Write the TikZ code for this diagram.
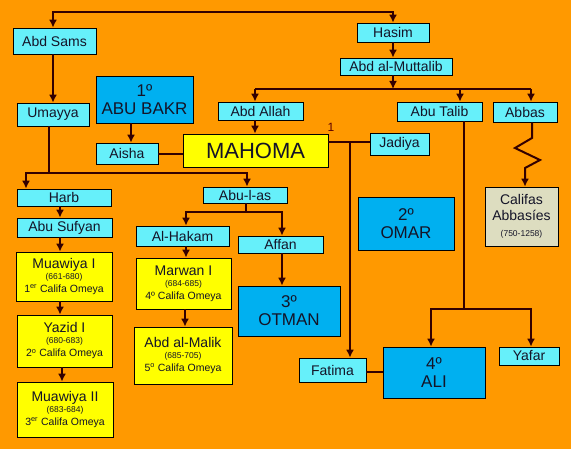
\documentclass[tikz,border=0pt]{standalone}
\usepackage{fontspec}
\setmainfont{Liberation Sans}
\usetikzlibrary{arrows.meta}

\definecolor{bgorange}{RGB}{255,153,0}
\definecolor{cyanbox}{RGB}{102,240,250}
\definecolor{bluebox}{RGB}{0,176,240}
\definecolor{yellowbox}{RGB}{255,255,0}
\definecolor{beigebox}{RGB}{221,221,192}
\definecolor{linec}{RGB}{51,0,0}
\definecolor{inkc}{RGB}{20,20,40}

% name / years / caliph line
\newcommand{\califa}[3]{{\fontsize{14}{15}\selectfont #1}\\[-1pt]{\fontsize{8.5}{10}\selectfont #2}\\[1pt]{\fontsize{10.5}{12}\selectfont #3}}

\begin{document}
\begin{tikzpicture}[x=1pt, y=-1pt, >={Latex[length=8pt,width=8pt]}]
  % Define styles
  \tikzstyle{person} = [rectangle, draw=black, line width=0.7pt, fill=cyanbox, inner sep=0pt, text=inkc, font=\fontsize{14}{16}\selectfont, text centered]
  \tikzstyle{caliph} = [rectangle, draw=black, line width=0.7pt, fill=bluebox, inner sep=0pt, text=inkc, align=center, font=\fontsize{17}{18}\selectfont]
  \tikzstyle{omeya} = [rectangle, draw=black, line width=0.7pt, fill=yellowbox, inner sep=0pt, text=inkc, align=center]
  \tikzstyle{line} = [draw=linec, line width=2pt]

  % Background
  \fill[bgorange] (0,0) rectangle (571,449);
  \useasboundingbox (0,0) rectangle (571,449);

  % Ancestors
  \node[person, minimum width=83pt, minimum height=26pt] (abdsams) at (54.5,41) {Abd Sams};
  \node[person, minimum width=72pt, minimum height=19pt] (hasim) at (393,32.5) {Hasim};
  \node[person, minimum width=112pt, minimum height=17pt] (muttalib) at (396,66.5) {Abd al-Muttalib};
  \node[person, minimum width=72pt, minimum height=23pt] (umayya) at (53,114.5) {Umayya};

  % Sons of Abd al-Muttalib
  \node[person, minimum width=85pt, minimum height=18pt] (abdallah) at (260.5,111) {Abd Allah};
  \node[person, minimum width=85pt, minimum height=19pt] (abutalib) at (439.5,111.5) {Abu Talib};
  \node[person, minimum width=64pt, minimum height=20pt] (abbas) at (525,112) {Abbas};

  % Mahoma and wives
  \node[caliph, minimum width=97pt, minimum height=47pt] (abubakr) at (144.5,99.5) {1º\\ABU BAKR};
  \node[person, minimum width=62pt, minimum height=21pt] (aisha) at (127,153.5) {Aisha};
  \node[rectangle, draw=black, line width=0.7pt, fill=yellowbox, text=inkc, minimum width=145pt, minimum height=33pt, font=\fontsize{22}{24}\selectfont] (mahoma) at (255.5,150.5) {MAHOMA};
  \node[text=linec!80!red, font=\fontsize{12}{14}\selectfont] (uno) at (331,127) {1};
  \node[person, minimum width=59pt, minimum height=22pt] (jadiya) at (399.5,144) {Jadiya};

  % Omeyas
  \node[person, minimum width=94pt, minimum height=17pt] (harb) at (64,197.5) {Harb};
  \node[person, minimum width=95pt, minimum height=19pt] (abusufyan) at (64.5,227.5) {Abu Sufyan};
  \node[omeya, minimum width=96pt, minimum height=49pt] (muawiyaI) at (64,276.5) {\califa{Muawiya I}{(661-680)}{1\textsuperscript{er} Califa Omeya}};
  \node[omeya, minimum width=95pt, minimum height=52pt] (yazid) at (64.5,341) {\califa{Yazid I}{(680-683)}{2\textsuperscript{o} Califa Omeya}};
  \node[omeya, minimum width=96pt, minimum height=55pt] (muawiyaII) at (65,409.5) {\califa{Muawiya II}{(683-684)}{3\textsuperscript{er} Califa Omeya}};

  \node[person, minimum width=84pt, minimum height=16pt] (abulas) at (245,195) {Abu-l-as};
  \node[person, minimum width=93pt, minimum height=20pt] (alhakam) at (182.5,236) {Al-Hakam};
  \node[person, minimum width=85pt, minimum height=17pt] (affan) at (280.5,244.5) {Affan};
  \node[omeya, minimum width=95pt, minimum height=51pt] (marwan) at (183.5,283.5) {\califa{Marwan I}{(684-685)}{4º Califa Omeya}};
  \node[omeya, minimum width=98pt, minimum height=57pt] (abdalmalik) at (183,355.5) {\califa{Abd al-Malik}{(685-705)}{5\textsuperscript{o} Califa Omeya}};
  \node[caliph, minimum width=102pt, minimum height=50pt] (otman) at (289,311) {3º\\OTMAN};

  % Other caliphs
  \node[caliph, minimum width=96pt, minimum height=53pt] (omar) at (406,223.5) {2º\\OMAR};
  \node[rectangle, draw=black, line width=0.7pt, fill=beigebox, inner sep=0pt, text=inkc, align=center, font=\fontsize{14}{16}\selectfont, minimum width=73pt, minimum height=59pt] (califas) at (521.5,216.5) {Califas\\Abbasíes\\[0pt]{\fontsize{8.5}{10}\selectfont (750-1258)}};
  \node[person, minimum width=67pt, minimum height=24pt] (fatima) at (332.5,370) {Fatima};
  \node[caliph, minimum width=102pt, minimum height=51pt] (ali) at (434,372.5) {4º\\ALI};
  \node[person, minimum width=60pt, minimum height=18pt] (yafar) at (529,356) {Yafar};

  % Join points
  \coordinate (top) at (53,12);
  \coordinate (fam) at (393,89);
  \coordinate (famL) at (255,89);
  \coordinate (famT) at (460,89);
  \coordinate (famR) at (531,89);
  \coordinate (omy) at (49,173);
  \coordinate (omyL) at (26,173);
  \coordinate (omyR) at (247,173);
  \coordinate (asj) at (246,212);
  \coordinate (asL) at (186,212);
  \coordinate (asR) at (282,212);
  \coordinate (wed) at (350,142);
  \coordinate (tal) at (464,309);
  \coordinate (talL) at (431,309);
  \coordinate (talR) at (531,309);

  % Arrows
  \draw[line, <->] (abdsams.north -| top) -- (top) -| (hasim.north);
  \draw[line, ->] (hasim.south) -- (muttalib.north -| hasim.south);
  \draw[line, ->] (muttalib.south -| fam) -- (fam);
  \draw[line] (famL) -- (famR);
  \draw[line, ->] (famL) -- (abdallah.north -| famL);
  \draw[line, ->] (famT) -- (abutalib.north -| famT);
  \draw[line, ->] (famR) -- (abbas.north -| famR);
  \draw[line, ->] (abdsams.south -| top) -- (umayya.north -| top);
  \draw[line, ->] (abdallah.south -| famL) -- (mahoma.north -| famL);
  \draw[line, ->] (abubakr.south -| 131,0) -- (aisha.north -| 131,0);
  \draw[line] (aisha.east |- 0,154) -- (mahoma.west |- 0,154);
  \draw[line] (mahoma.east |- wed) -- (jadiya.west |- wed);
  \draw[line, ->] (wed) -- (fatima.north -| wed);
  \draw[line] (fatima.east |- 0,372) -- (ali.west |- 0,372);

  \draw[line] (umayya.south -| omy) -- (omy);
  \draw[line, <->] (harb.north -| omyL) -- (omyL) -- (omyR) -- (abulas.north -| omyR);
  \draw[line, ->] (harb.south -| 60,0) -- (abusufyan.north -| 60,0);
  \draw[line, ->] (abusufyan.south -| 60,0) -- (muawiyaI.north -| 60,0);
  \draw[line, ->] (muawiyaI.south -| 60,0) -- (yazid.north -| 60,0);
  \draw[line, ->] (yazid.south -| 62,0) -- (muawiyaII.north -| 62,0);

  \draw[line] (abulas.south -| asj) -- (asj);
  \draw[line, <->] (alhakam.north -| asL) -- (asL) -- (asR) -- (affan.north -| asR);
  \draw[line, ->] (alhakam.south -| asL) -- (marwan.north -| asL);
  \draw[line, ->] (marwan.south -| 185,0) -- (abdalmalik.north -| 185,0);
  \draw[line, ->] (affan.south -| asR) -- (otman.north -| asR);

  \draw[line] (abutalib.south -| tal) -- (tal);
  \draw[line, <->] (ali.north -| talL) -- (talL) -- (talR) -- (yafar.north -| talR);

  % Abbasid line
  \draw[line, ->] (abbas.south -| 532,0) -- (532,138) -- (515,148) -- (540,160) -- (525,168) -- (califas.north -| 525,0);
\end{tikzpicture}
\end{document}
